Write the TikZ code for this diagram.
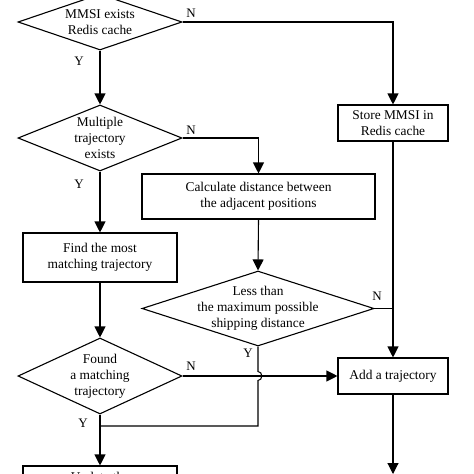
\documentclass[tikz,border=0pt]{standalone}
\usepackage{fontspec}
\setmainfont{Liberation Serif}
\usetikzlibrary{shapes.geometric,arrows.meta,calc}
\begin{document}
\begin{tikzpicture}[x=1pt,y=-1pt,
  line width=1.1pt,
  every node/.style={font=\fontsize{13.4}{16}\selectfont},
  dia/.style={diamond,draw,inner sep=0pt},
  box/.style={draw,rectangle,inner sep=0pt},
  txt/.style={align=center,inner sep=0pt},
  lbl/.style={inner sep=0pt,font=\fontsize{13}{14}\selectfont},
  arr/.style={-{Triangle[width=11pt,length=11pt]}}]
\useasboundingbox (0,0) rectangle (474,474);
\clip (0,0) rectangle (474,474);

% decisions
\node[dia,minimum width=164pt,minimum height=56pt] (d1) at (100,22) {};
\node[txt] (t1) at (d1) {MMSI exists\\Redis cache};
\node[dia,minimum width=164pt,minimum height=66pt] (d2) at (100,138) {};
\node[txt] (t2) at (d2) {Multiple\\trajectory\\exists};
\node[dia,minimum width=232pt,minimum height=75pt] (d3) at (258,308.5) {};
\node[txt] (t3) at (d3) {Less than\\the maximum possible\\shipping distance};
\node[dia,minimum width=164pt,minimum height=76pt] (d4) at (100,376) {};
\node[txt] (t4) at (d4) {Found\\a matching\\trajectory};

% processes
\node[box,minimum width=110pt,minimum height=36pt,align=center] (store) at (393,123) {Store MMSI in\\Redis cache};
\node[box,minimum width=233pt,minimum height=45pt,align=center] (calc) at (258.5,196.5) {Calculate distance between\\the adjacent positions};
\node[box,minimum width=154pt,minimum height=49pt,align=center] (find) at (100,257.5) {Find the most\\matching trajectory};
\node[box,minimum width=110pt,minimum height=36pt,align=center] (add) at (393,376) {Add a trajectory};
\node[box,minimum width=154pt,minimum height=49pt] (upd) at (100,490.5) {};
\node[txt] (tu) at (100,478.5) {Update the};
\coordinate (out) at (393,474);

% labels
\node[lbl] (n1) at (191,13) {N};
\node[lbl] (n2) at (191,130) {N};
\node[lbl] (n3) at (377,296) {N};
\node[lbl] (n4) at (191,366) {N};
\node[lbl] (y1) at (79,61) {Y};
\node[lbl] (y2) at (79,184) {Y};
\node[lbl] (y3) at (248,353) {Y};
\node[lbl] (y4) at (83,423) {Y};

% connectors
\draw[arr] (d1.east) -| (store.north);
\draw[arr] (d1.south) -- (d2.north);
\draw[arr] (d2.east) -| (calc.north);
\draw[arr] (d2.south) -- (find.north);
\draw[arr] (find.south) -- (d4.north);
\draw[arr] (calc.south) -- (d3.north);
\draw (d3.east) -- (d3.east -| store.south);
\draw[arr] (store.south) -- (add.north);
\draw[arr] (d4.east) -- (add.west);
\coordinate (hop) at (d3.south |- d4.east);
\coordinate (j) at (d4.south |- 0,426);
\draw (d3.south) -- ($(hop)+(0,-4.5)$) .. controls ($(hop)+(5,-4.5)$) and ($(hop)+(5,4.5)$) .. ($(hop)+(0,4.5)$) -- (j -| d3.south) -- (j);
\draw[arr] (d4.south) -- (upd.north);
\draw[arr] (add.south) -- (out);
\end{tikzpicture}
\end{document}
